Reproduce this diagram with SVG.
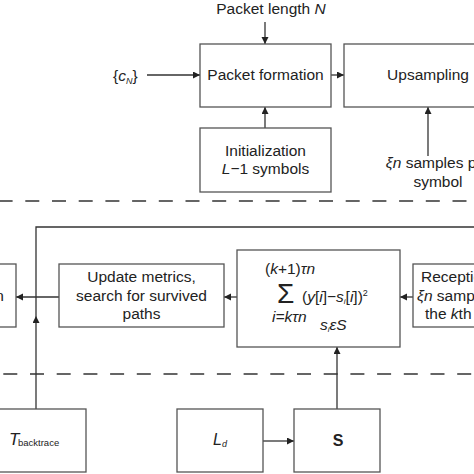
<svg xmlns="http://www.w3.org/2000/svg" width="474" height="474" viewBox="0 0 474 474">
<defs>
<style>
.box{fill:#fff;stroke:#555;stroke-width:1.3}
.ln{fill:none;stroke:#333;stroke-width:1.3}
.dash{fill:none;stroke:#333;stroke-width:1.5;stroke-dasharray:14 12.7}
text{font-family:"Liberation Sans",Arial,sans-serif;font-size:15.5px;fill:#222}
.c{text-anchor:middle}
.i{font-style:italic}
</style>
<marker id="ah" markerUnits="userSpaceOnUse" markerWidth="8" markerHeight="8" refX="7" refY="3.5" orient="auto">
<path d="M0,0 L7,3.5 L0,7 z" fill="#222"/>
</marker>
</defs>
<rect width="474" height="474" fill="#fff"/>
<line class="dash" x1="-0.7" y1="201" x2="474" y2="201" style="stroke-dashoffset:0.7"/>
<line class="dash" x1="3.3" y1="374" x2="474" y2="374"/>

<g id="connectors">
<path class="ln" d="M265,22 V44" marker-end="url(#ah)"/>
<path class="ln" d="M147,75 H200" marker-end="url(#ah)"/>
<path class="ln" d="M331,75 H344" marker-end="url(#ah)"/>
<path class="ln" d="M265,128 V107" marker-end="url(#ah)"/>
<path class="ln" d="M428,156 V107" marker-end="url(#ah)"/>
<path class="ln" d="M36,409 V316" marker-end="url(#ah)"/>
<path class="ln" d="M36,316 V227 H474"/>
<path class="ln" d="M59,297 H16" marker-end="url(#ah)"/>
<path class="ln" d="M237,297 H224" marker-end="url(#ah)"/>
<path class="ln" d="M413,297 H400" marker-end="url(#ah)"/>
<path class="ln" d="M337,409 V347" marker-end="url(#ah)"/>
<path class="ln" d="M263,441 H294" marker-end="url(#ah)"/>
</g>

<g id="packet-length"><text class="c" x="271" y="14">Packet length <tspan class="i">N</tspan></text></g>
<g id="cn"><text x="113" y="81">{<tspan class="i">c</tspan><tspan class="i" style="font-size:9px" dy="3">N</tspan><tspan dy="-3">}</tspan></text></g>
<g id="packet-formation">
<rect class="box" x="200" y="44" width="131" height="63"/>
<text class="c" x="265.5" y="80">Packet formation</text>
</g>
<g id="upsampling">
<rect class="box" x="344" y="44" width="170" height="63"/>
<text class="c" x="428" y="80">Upsampling</text>
</g>
<g id="initialization">
<rect class="box" x="200" y="128" width="131" height="64"/>
<text class="c" x="265.5" y="156">Initialization</text>
<text class="c" x="265.5" y="174"><tspan class="i">L</tspan>−1 symbols</text>
</g>
<g id="samples-per-symbol">
<text class="c" x="438" y="168"><tspan class="i">ξn</tspan> samples per</text>
<text class="c" x="438" y="187">symbol</text>
</g>

<g id="decision">
<rect class="box" x="-20" y="264" width="36" height="63"/>
<text x="4" y="301" text-anchor="end">Decision</text>
</g>
<g id="update-metrics">
<rect class="box" x="59" y="264" width="165" height="63"/>
<text class="c" x="141.5" y="282">Update metrics,</text>
<text class="c" x="141.5" y="301">search for survived</text>
<text class="c" x="141.5" y="319">paths</text>
</g>
<g id="metric-sum">
<rect class="box" x="237" y="250" width="163" height="97"/>
<text x="265" y="274">(<tspan class="i">k</tspan>+1)<tspan class="i">τn</tspan></text>
<text x="277" y="303" style="font-size:28px">Σ</text>
<text x="302" y="302">(<tspan class="i">y</tspan>[<tspan class="i">i</tspan>]−<tspan class="i">s</tspan><tspan class="i" style="font-size:8px" dy="2">i</tspan><tspan dy="-2">[</tspan><tspan class="i">i</tspan>])<tspan style="font-size:9px" dy="-6">2</tspan></text>
<text x="272" y="322" class="i">i=kτn</text>
<text x="320" y="330" class="i">s<tspan style="font-size:8px" dy="2">i</tspan><tspan dy="-2">εS</tspan></text>
</g>
<g id="reception">
<rect class="box" x="413" y="264" width="120" height="63"/>
<text x="421" y="282">Reception of</text>
<text x="417" y="301"><tspan class="i">ξn</tspan> samples of</text>
<text x="425" y="319">the <tspan class="i">k</tspan>th symbol</text>
</g>

<g id="t-backtrace">
<rect class="box" x="-20" y="409" width="106" height="63"/>
<text x="9" y="445" class="i" style="font-size:17px">T</text>
<text x="18" y="446" style="font-size:9.5px">backtrace</text>
</g>
<g id="ld">
<rect class="box" x="177" y="409" width="86" height="63"/>
<text x="213" y="445" class="i" style="font-size:16px">L<tspan style="font-size:9px" dy="2">d</tspan></text>
</g>
<g id="s-set">
<rect class="box" x="294" y="409" width="86" height="63"/>
<text class="c" x="338" y="446" style="font-size:16px;font-weight:bold">S</text>
</g>
</svg>
